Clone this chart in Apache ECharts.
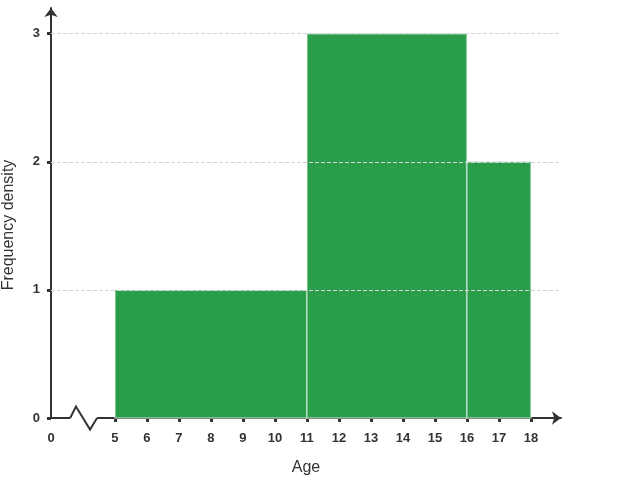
<!DOCTYPE html>
<html>
<head>
<meta charset="utf-8">
<script src="https://cdn.jsdelivr.net/npm/echarts@6/dist/echarts.min.js"></script>
<style>
  html, body { margin: 0; padding: 0; background: #fff; }
  #chart { width: 624px; height: 480px; }
</style>
</head>
<body>
<div id="chart"></div>
<script>
// histogram bins (age) and frequency density
const binStarts = [5, 11, 16];
const binEnds = [11, 16, 18];
const densities = [1, 3, 2];
// the x axis is broken: value 3 on the scale is drawn as "0"
const xBreakAt = 3;
const xTickValues = [5, 6, 7, 8, 9, 10, 11, 12, 13, 14, 15, 16, 17, 18];
const yTickValues = [0, 1, 2, 3];
const gridValues = [1, 2, 3];

const chart = echarts.init(document.getElementById("chart"));
const font = "'Liberation Sans', Arial, sans-serif";
const axisColor = "#333";

chart.setOption({
  animation: false,
  grid: { left: 51, right: 63, top: 8, bottom: 62, containLabel: false, outerBoundsMode: "none" },
  xAxis: {
    type: "value",
    min: xBreakAt,
    max: 18.94,
    name: "Age",
    nameLocation: "middle",
    nameGap: 42,
    nameTextStyle: { fontFamily: font, fontSize: 16, color: axisColor },
    axisLine: {
      show: true,
      symbol: ["none", "arrow"],
      symbolSize: [10, 9],
      lineStyle: { color: axisColor, width: 2 }
    },
    axisTick: {
      show: true,
      customValues: xTickValues,
      length: 4,
      lineStyle: { color: axisColor, width: 3 }
    },
    axisLabel: {
      customValues: [xBreakAt].concat(xTickValues),
      formatter: v => (v === xBreakAt ? "0" : String(v)),
      margin: 14,
      fontFamily: font,
      fontSize: 13,
      fontWeight: "bold",
      color: axisColor
    },
    splitLine: { show: false }
  },
  yAxis: {
    type: "value",
    min: 0,
    max: 3.2,
    name: "Frequency density",
    nameLocation: "middle",
    nameGap: 34,
    nameTextStyle: { fontFamily: font, fontSize: 16, color: axisColor, padding: [0, 24, 0, 0] },
    axisLine: {
      show: true,
      symbol: ["none", "arrow"],
      symbolSize: [10, 9],
      lineStyle: { color: axisColor, width: 2 }
    },
    axisTick: {
      show: true,
      customValues: yTickValues,
      length: 4,
      lineStyle: { color: axisColor, width: 3 }
    },
    axisLabel: {
      customValues: yTickValues,
      margin: 11,
      fontFamily: font,
      fontSize: 13,
      fontWeight: "bold",
      color: axisColor
    },
    splitLine: { show: false }
  },
  series: [
    {
      type: "custom",
      z: 2,
      data: binStarts.map((s, i) => [s, binEnds[i], densities[i]]),
      renderItem: function (params, api) {
        const p0 = api.coord([api.value(0), 0]);
        const p1 = api.coord([api.value(1), api.value(2)]);
        return {
          type: "rect",
          shape: { x: p0[0], y: p1[1], width: p1[0] - p0[0], height: p0[1] - p1[1] },
          style: { fill: "#2a9d4a", stroke: "rgba(255,255,255,0.4)", lineWidth: 2 }
        };
      },
      markLine: {
        silent: true,
        symbol: "none",
        label: { show: false },
        lineStyle: { color: "#d4d4dc", type: [4, 2], width: 1 },
        data: gridValues.map(v => ({ yAxis: v }))
      }
    },
    {
      // zigzag marking the break in the x axis
      type: "custom",
      z: 5,
      clip: false,
      data: [[xBreakAt]],
      renderItem: function (params, api) {
        const a = api.coord([3.6, 0]);
        const b = api.coord([4.44, 0]);
        const up = api.coord([3.78, 0.09]);
        const dn = api.coord([4.22, -0.09]);
        return {
          type: "group",
          children: [
            { type: "rect", shape: { x: a[0], y: a[1] - 3, width: b[0] - a[0], height: 6 }, style: { fill: "#fff" } },
            { type: "polyline", shape: { points: [a, up, dn, b] }, style: { stroke: axisColor, lineWidth: 2, fill: null } }
          ]
        };
      }
    }
  ]
});
</script>
</body>
</html>
